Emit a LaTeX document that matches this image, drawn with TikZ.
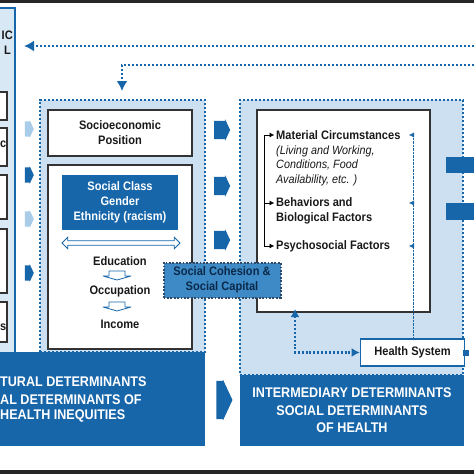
\documentclass[tikz,border=0pt]{standalone}
\usepackage{fontspec}
\setmainfont{Liberation Sans}[FakeStretch=0.9]
\usetikzlibrary{arrows.meta,shapes.arrows}
\definecolor{dblue}{HTML}{1766AA}
\definecolor{lblue}{HTML}{CCE0F1}
\definecolor{mblue}{HTML}{3D8AC6}
\definecolor{navy}{HTML}{0B2A4A}
\definecolor{pale}{HTML}{A9CCE8}
\tikzset{
  dots/.style={draw=dblue,line width=2.4pt,dash pattern=on 2.1pt off 1.9pt},
  panel/.style={fill=lblue,dots,inner sep=0pt},
  wbox/.style={draw=black!80,fill=white,line width=1.1pt,inner sep=0pt},
  txt/.style={font=\fontsize{12.3}{15}\selectfont\bfseries,align=center,inner sep=0pt,text=black!90},
  head/.style={font=\fontsize{14}{17.5}\selectfont\bfseries,align=center,inner sep=0pt,text=white},
  barrow/.style={single arrow,fill=dblue,inner xsep=0pt,inner ysep=9pt,single arrow head extend=1.5pt,
    single arrow tip angle=130,minimum height=16pt},
  sarrow/.style={single arrow,inner xsep=0pt,inner ysep=7.5pt,single arrow head extend=1pt,
    single arrow tip angle=130,minimum height=9pt},
  harrow/.style={draw=dblue,fill=white,line width=0.8pt,line join=round},
  brk/.style={line width=0.9pt,-{Latex[length=5pt,width=5pt]},shorten >=1.5pt}
}
\begin{document}
\begin{tikzpicture}[x=1pt,y=-1pt]
\fill[white] (0,0) rectangle (474,474);
\useasboundingbox (0,0) rectangle (474,474);
\fill[black!85] (0,0) rectangle (474,3);
\fill[black!85] (0,470) rectangle (474,474);

% context column
\fill[lblue!75] (0,8) rectangle (15,352);
\draw[dblue,line width=1.5pt] (0,8) -- (15,8) -- (15,352);
\foreach \ya/\yb in {92/120,128/166,175/219,229/293,302/342}
  \draw[wbox] (-5,\ya) rectangle (7,\yb);
\node[txt,anchor=east] (ctxa) at (13,35) {IC};
\node[txt,anchor=east] (ctxb) at (11,50) {L};
\node[txt,anchor=east] (lbc) at (6.5,144) {c};
\node[txt,anchor=west] (lbs) at (0,327) {s};

% panels
\node[panel,minimum width=165,minimum height=252] (sdpanel) at (122.5,226) {};
\node[panel,minimum width=223,minimum height=275] (idpanel) at (351.5,237.5) {};

% feedback
\coordinate (fbA) at (474,46);
\coordinate (fbB) at (24,46);
\coordinate (fbC) at (474,65);
\coordinate (fbD) at (122,91);
\draw[dots,-{Latex[length=10pt,width=11pt]}] (fbA) -- (fbB);
\draw[dots,-{Latex[length=10pt,width=11pt]}] (fbC) -| (fbD);

% small arrows from context
\node[sarrow,fill=pale] (cxa1) at (27.5,129) {};
\node[sarrow,fill=dblue] (cxa2) at (27.5,175) {};
\node[sarrow,fill=pale] (cxa3) at (27.5,219) {};
\node[sarrow,fill=dblue] (cxa4) at (27.5,273) {};

% structural side
\node[wbox,txt,minimum width=144,minimum height=46] (sep) at (120,133) {Socioeconomic\\Position};
\node[wbox,minimum width=144,minimum height=184] (sebox) at (120,257) {};
\node[txt,fill=dblue,text=white,minimum width=116,minimum height=55] (scg) at (120,202.5) {Social Class\\Gender\\Ethnicity (racism)};
\node[double arrow,draw=dblue,fill=white,line width=0.8pt,minimum height=118pt,
  inner xsep=0pt,inner ysep=1.8pt,double arrow head extend=3.5pt] (dbl) at (121,243) {};
\node[txt] (edu) at (120,261) {Education};
\node[txt] (occ) at (120,291) {Occupation};
\node[txt] (inc) at (120,324) {Income};
\foreach \yt in {271,302}
  \draw[harrow] (109,\yt) -- (125,\yt) -- (125,\yt+5) -- (131,\yt+5) -- (117,\yt+9)
    -- (103,\yt+5) -- (109,\yt+5) -- cycle;

% arrows between panels
\node[barrow] (mid1) at (220,130) {};
\node[barrow] (mid2) at (220,186) {};
\node[barrow] (mid3) at (220,240) {};

% intermediary side
\node[wbox,minimum width=173,minimum height=202] (idbox) at (343.5,211) {};
\node[txt,anchor=west] (matc) at (276,135) {Material Circumstances};
\node[txt,anchor=west,align=left,font=\fontsize{12}{14.5}\selectfont\itshape] (matd) at (276,165.5) {(Living and Working,\\Conditions, Food\\Availability, etc. )};
\node[txt,anchor=west,align=left] (behv) at (276,210.5) {Behaviors and\\Biological Factors};
\node[txt,anchor=west] (psy) at (276,246) {Psychosocial Factors};
\coordinate (brA) at (264,135);
\coordinate (brM) at (264,203);
\coordinate (brB) at (264,246);
\draw[line width=0.9pt] (brA) -- (brB);
\draw[brk] (brA) -- (matc.west);
\draw[brk] (brM) -- (brM -| behv.west);
\draw[brk] (brB) -- (psy.west);

\node[txt,fill=mblue,text=navy,draw=navy!85,line width=2pt,dash pattern=on 1.8pt off 1.6pt,
  minimum width=117,minimum height=35] (coh) at (222,280) {Social Cohesion \&\\Social Capital};

\node[txt,draw=dblue,fill=white,line width=1.6pt,minimum width=104,minimum height=27] (hs) at (412.5,352.5) {Health System};
\node[fill=dblue,minimum size=6pt,inner sep=0pt] (hsq) at (466,352.5) {};
\coordinate (rtA) at (413,135);
\coordinate (rtB) at (413,203);
\coordinate (rtC) at (413,246);
\draw[dblue,thin,densely dotted] (rtA) -- (rtA |- hs.north);
\foreach \c in {rtA,rtB,rtC}
  \draw[dblue,-{Latex[length=5pt,width=5pt]}] (\c) -- ++(-4,0);
\coordinate (hsA) at (295,309);
\draw[dots,line width=2.2pt,dash pattern=on 2pt off 1.9pt,
  {Latex[length=8pt,width=9pt]}-{Latex[length=8pt,width=9pt]}] (hsA) |- (hs.west);

\node[fill=dblue,minimum width=30,minimum height=16,inner sep=0pt] (outA) at (461,165) {};
\node[fill=dblue,minimum width=30,minimum height=17,inner sep=0pt] (outB) at (461,211.5) {};

% determinants boxes
\node[fill=dblue,minimum width=207,minimum height=94,inner sep=0pt] (sdbox) at (101.5,399) {};
\node[head,anchor=west] (sdl1) at (0,382) {TURAL DETERMINANTS};
\node[head,anchor=west] (sdl2) at (0,400) {AL DETERMINANTS OF};
\node[head,anchor=west] (sdl3) at (0,416) {HEALTH INEQUITIES};
\node[barrow,inner ysep=19pt] (mid4) at (220,400) {};
\node[fill=dblue,head,minimum width=224,minimum height=71] (idlbl) at (352,410.5) {INTERMEDIARY DETERMINANTS\\SOCIAL DETERMINANTS\\OF HEALTH};
\end{tikzpicture}
\end{document}
